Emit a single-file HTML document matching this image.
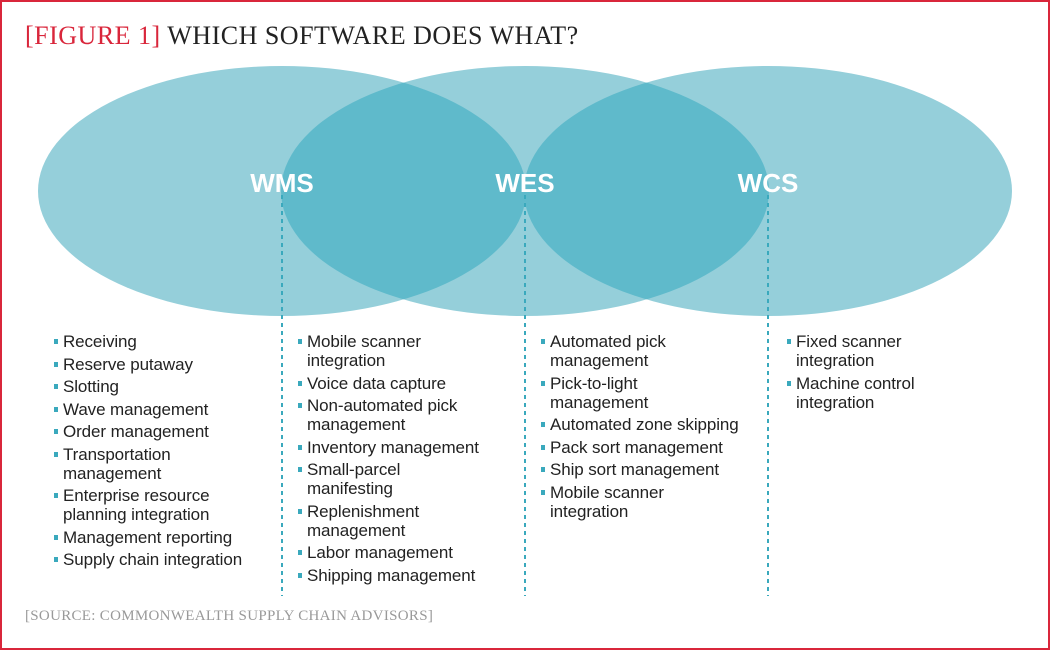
<!DOCTYPE html>
<html><head><meta charset="utf-8"><style>
body{margin:0;width:1050px;height:650px;background:#fff;position:relative;overflow:hidden;font-family:"Liberation Sans",sans-serif}
.frame{position:absolute;left:0;top:0;width:1046px;height:646px;border:2px solid #d9263b}
.title{position:absolute;left:25px;top:21px;font-family:"Liberation Serif",serif;font-size:26px;color:#222;letter-spacing:0.5px}
.title span{color:#d9263b}
.src{position:absolute;left:25px;top:608px;font-family:"Liberation Serif",serif;font-size:15px;color:#999;letter-spacing:0.3px}
ul{position:absolute;margin:0;padding:0;list-style:none;font-size:17px;line-height:19px;color:#222;letter-spacing:-0.1px}
li{position:relative;padding-left:9px;margin-bottom:3.5px}
li:before{content:"";position:absolute;left:0;top:7px;width:4px;height:5px;background:#3aa9bd}
</style></head><body>
<div class="frame"></div>
<div class="title"><span>[FIGURE 1]</span> WHICH SOFTWARE DOES WHAT?</div>
<svg width="1050" height="650" style="position:absolute;left:0;top:0">
<defs>
<clipPath id="c1"><ellipse cx="282" cy="191" rx="244" ry="125"/></clipPath>
<clipPath id="c3"><ellipse cx="768" cy="191" rx="244" ry="125"/></clipPath>
</defs>
<ellipse cx="282" cy="191" rx="244" ry="125" fill="#95cfda"/>
<ellipse cx="525" cy="191" rx="244" ry="125" fill="#95cfda"/>
<ellipse cx="768" cy="191" rx="244" ry="125" fill="#95cfda"/>
<ellipse cx="525" cy="191" rx="244" ry="125" fill="#5fbacb" clip-path="url(#c1)"/>
<ellipse cx="525" cy="191" rx="244" ry="125" fill="#5fbacb" clip-path="url(#c3)"/>
<g stroke="#3aa9bd" stroke-width="2" stroke-dasharray="4,4">
<line x1="282" y1="195" x2="282" y2="596"/>
<line x1="525" y1="195" x2="525" y2="596"/>
<line x1="768" y1="195" x2="768" y2="596"/>
</g>
<g fill="#fff" font-family="Liberation Sans, sans-serif" font-weight="bold" font-size="26" text-anchor="middle">
<text x="282" y="192">WMS</text><text x="525" y="192">WES</text><text x="768" y="192">WCS</text>
</g>
</svg>
<ul style="left:54px;top:332px">
<li>Receiving</li><li>Reserve putaway</li><li>Slotting</li><li>Wave management</li><li>Order management</li><li>Transportation<br>management</li><li>Enterprise resource<br>planning integration</li><li>Management reporting</li><li>Supply chain integration</li>
</ul>
<ul style="left:298px;top:332px">
<li>Mobile scanner<br>integration</li><li>Voice data capture</li><li>Non-automated pick<br>management</li><li>Inventory management</li><li>Small-parcel<br>manifesting</li><li>Replenishment<br>management</li><li>Labor management</li><li>Shipping management</li>
</ul>
<ul style="left:541px;top:332px">
<li>Automated pick<br>management</li><li>Pick-to-light<br>management</li><li>Automated zone skipping</li><li>Pack sort management</li><li>Ship sort management</li><li>Mobile scanner<br>integration</li>
</ul>
<ul style="left:787px;top:332px">
<li>Fixed scanner<br>integration</li><li>Machine control<br>integration</li>
</ul>
<div class="src">[SOURCE: COMMONWEALTH SUPPLY CHAIN ADVISORS]</div>
</body></html>
